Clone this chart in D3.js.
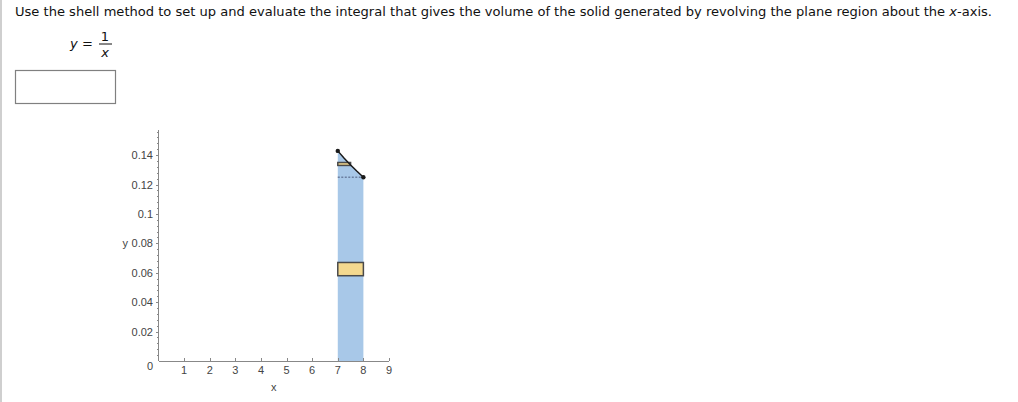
<!DOCTYPE html>
<html lang="en">
	<head>
		<meta charset="utf-8">
		<title>Shell method - y = 1/x</title>
		<script type="text/javascript" src="https://cdn.jsdelivr.net/npm/d3@7/dist/d3.min.js"></script>

		<style type="text/css">
			body { margin: 0; background: white; }

			.prompt {
				font-family: Verdana, "DejaVu Sans", sans-serif;
				font-size: 13px;
				fill: #111;
			}

			.formula {
				font-family: Verdana, "DejaVu Sans", sans-serif;
				font-size: 13px;
				fill: #111;
			}

			.axis path,
			.axis line {
				stroke: #888;
				shape-rendering: CrispEdges;
			}

			.axis text {
				font-family: "Liberation Sans", Arial, sans-serif;
				font-size: 11px;
				fill: #444;
			}

			.label {
				font-family: "Liberation Sans", Arial, sans-serif;
				font-size: 11px;
				fill: #444;
			}
		</style>
	</head>

	<body>

		<script type="text/javascript">

			// ---- data ----
			var xTicks = [1, 2, 3, 4, 5, 6, 7, 8, 9];
			var yTicks = [0.02, 0.04, 0.06, 0.08, 0.1, 0.12, 0.14];
			var yTickLabels = ["0.02", "0.04", "0.06", "0.08", "0.1", "0.12", "0.14"];
			var yMinor = [0.004, 0.008, 0.012, 0.016, 0.024, 0.028, 0.032, 0.036,
			              0.044, 0.048, 0.052, 0.056, 0.064, 0.068, 0.072, 0.076,
			              0.084, 0.088, 0.092, 0.096, 0.104, 0.108, 0.112, 0.116,
			              0.124, 0.128, 0.132, 0.136, 0.144, 0.148, 0.152, 0.156];

			// y = 1/x between x = 7 and x = 8
			var curveX = [7, 7.25, 7.5, 7.75, 8];
			var curveY = [0.1429, 0.1379, 0.1333, 0.1290, 0.125];

			// representative rectangles (x from / to, y from / to)
			var rectX0 = [7, 7];
			var rectX1 = [7.5, 8];
			var rectY0 = [0.133, 0.058];
			var rectY1 = [0.135, 0.067];

			var dashY = 0.125;
			var xMax = 9;
			var yMax = 0.1571;

			var w = 1018;
			var h = 402;

			var svg = d3.select("body").append("svg").attr("width", w).attr("height", h);

			// left page border
			svg.append("rect").attr("x", 0).attr("y", 0).attr("width", 2).attr("height", h).attr("fill", "#cfcfcf");

			// question text
			svg.append("text").attr("class", "prompt")
				.attr("x", 15).attr("y", 16)
				.attr("textLength", 977).attr("lengthAdjust", "spacingAndGlyphs")
				.text("Use the shell method to set up and evaluate the integral that gives the volume of the solid generated by revolving the plane region about the ")
				.append("tspan").attr("font-style", "italic").text("x")
				.select(function() { return this.parentNode; })
				.append("tspan").text("-axis.");

			// y = 1/x
			svg.append("text").attr("class", "formula").attr("x", 70).attr("y", 48)
				.attr("font-style", "italic").text("y");
			svg.append("text").attr("class", "formula").attr("x", 82).attr("y", 48).text("=");
			svg.append("text").attr("class", "formula").attr("x", 105).attr("y", 41)
				.attr("text-anchor", "middle").text("1");
			svg.append("line").attr("x1", 99).attr("x2", 112).attr("y1", 44).attr("y2", 44)
				.attr("stroke", "#111").attr("stroke-width", 1);
			svg.append("text").attr("class", "formula").attr("x", 105).attr("y", 57)
				.attr("text-anchor", "middle").attr("font-style", "italic").attr("font-size", "14px").text("x");

			// answer box
			svg.append("rect").attr("x", 15.5).attr("y", 70.5).attr("width", 100).attr("height", 33)
				.attr("fill", "white").attr("stroke", "#808080").attr("stroke-width", 1.2);

			// ---- plot ----
			var xScale = d3.scaleLinear().domain([0, xMax]).range([158.5, 389]);
			var yScale = d3.scaleLinear().domain([0, yMax]).range([361, 130]);

			// region under the curve
			var area = d3.area()
				.x(function(d) { return xScale(d[0]); })
				.y0(yScale(0))
				.y1(function(d) { return yScale(d[1]); });

			var pts = curveX.map(function(x, i) { return [x, curveY[i]]; });

			svg.append("path").datum(pts)
				.attr("fill", "#a8c8e8")
				.attr("d", area);

			// dashed level line at 1/8
			svg.append("line")
				.attr("x1", xScale(curveX[0])).attr("x2", xScale(curveX[curveX.length - 1]))
				.attr("y1", yScale(dashY)).attr("y2", yScale(dashY))
				.attr("stroke", "#6b7fa0").attr("stroke-width", 1.4)
				.attr("stroke-dasharray", "2,1.5");

			// rectangles
			svg.selectAll("rects").data(rectX0).enter().append("rect")
				.attr("x", function(d) { return xScale(d); })
				.attr("y", function(d, i) { return yScale(rectY1[i]); })
				.attr("width", function(d, i) { return xScale(rectX1[i]) - xScale(d); })
				.attr("height", function(d, i) { return yScale(rectY0[i]) - yScale(rectY1[i]); })
				.attr("fill", "#f4d98f")
				.attr("stroke", "#4a4a4a")
				.attr("stroke-width", 1.5);

			// the curve and its end points
			var line = d3.line()
				.x(function(d) { return xScale(d[0]); })
				.y(function(d) { return yScale(d[1]); });

			svg.append("path").datum(pts)
				.attr("fill", "none")
				.attr("stroke", "#1a1a1a")
				.attr("stroke-width", 1.5)
				.attr("d", line);

			svg.selectAll(".dot").data([pts[0], pts[pts.length - 1]]).enter().append("circle")
				.attr("cx", function(d) { return xScale(d[0]); })
				.attr("cy", function(d) { return yScale(d[1]); })
				.attr("r", 2.2)
				.attr("fill", "#1a1a1a");

			// axes
			var xAxis = d3.axisTop(xScale).tickValues(xTicks).tickSize(3).tickFormat("");
			var yAxis = d3.axisLeft(yScale).tickValues(yTicks).tickSize(3)
				.tickFormat(function(d, i) { return yTickLabels[i]; });
			var yAxisMinor = d3.axisLeft(yScale).tickValues(yMinor).tickSize(2).tickFormat("");

			svg.append("g").attr("class", "axis")
				.attr("transform", "translate(0," + yScale(0) + ")")
				.call(xAxis)
				.call(function(g) { g.select(".domain").attr("d", "M" + xScale(0) + ",0H" + xScale(xMax)); });

			svg.append("g").attr("class", "axis")
				.attr("transform", "translate(" + xScale(0) + ",0)")
				.call(yAxisMinor)
				.call(function(g) { g.select(".domain").remove(); });

			svg.append("g").attr("class", "axis")
				.attr("transform", "translate(" + xScale(0) + ",0)")
				.call(yAxis)
				.call(function(g) {
					g.select(".domain").attr("d", "M0," + yScale(yMax) + "V" + yScale(0));
					g.selectAll(".tick text").attr("x", -5.5);
				});

			// x tick labels (below the axis, ticks point up)
			svg.selectAll("xlab").data(xTicks).enter().append("text")
				.attr("class", "label")
				.attr("x", function(d) { return xScale(d); })
				.attr("y", 374)
				.attr("text-anchor", "middle")
				.text(function(d) { return d; });

			// origin label
			svg.append("text").attr("class", "label")
				.attr("x", 153).attr("y", 370).attr("text-anchor", "end").text("0");

			// axis names
			svg.append("text").attr("class", "label")
				.attr("x", (xScale(0) + xScale(xMax)) / 2).attr("y", 391)
				.attr("text-anchor", "middle").text("x");
			svg.append("text").attr("class", "label")
				.attr("x", 128).attr("y", 247)
				.attr("text-anchor", "end").text("y");

		</script>

	</body>
</html>
